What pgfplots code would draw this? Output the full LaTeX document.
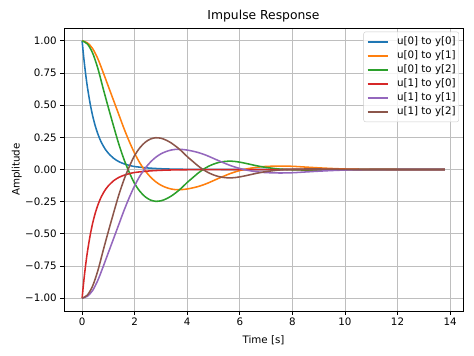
\documentclass[border=0pt]{standalone}
\usepackage{fontspec}
\setmainfont{DejaVu Sans}
\usepackage{pgfplots}
\usepackage{pgfplotstable}
\pgfplotsset{compat=1.18}
\definecolor{c0}{HTML}{1F77B4}
\definecolor{c1}{HTML}{FF7F0E}
\definecolor{c2}{HTML}{2CA02C}
\definecolor{c3}{HTML}{D62728}
\definecolor{c4}{HTML}{9467BD}
\definecolor{c5}{HTML}{8C564B}
\definecolor{gridc}{HTML}{BEBEBE}
\definecolor{legc}{HTML}{CCCCCC}

\pgfplotstableread{
t a d
0 1.000 -1.000
0.05 0.894 -0.894
0.1 0.800 -0.800
0.15 0.717 -0.717
0.2 0.642 -0.642
0.3 0.518 -0.518
0.4 0.418 -0.418
0.5 0.339 -0.339
0.6 0.276 -0.276
0.7 0.225 -0.225
0.8 0.185 -0.185
0.9 0.152 -0.152
1.0 0.126 -0.126
1.2 0.087 -0.087
1.4 0.061 -0.061
1.6 0.044 -0.044
1.8 0.032 -0.032
2.0 0.023 -0.023
2.5 0.012 -0.012
3.0 0.006 -0.006
3.5 0.003 -0.003
4.0 0.0016 -0.0016
5.0 0.0005 -0.0005
6.0 0.0001 -0.0001
8.0 0 0
10.0 0 0
13.8 0 0
}\tabA

\pgfplotstableread{
t b c e f
0 1.000 1.000 -1.000 -1.000
0.2 0.985 0.976 -0.985 -0.976
0.4 0.940 0.905 -0.940 -0.905
0.6 0.860 0.785 -0.860 -0.785
0.8 0.755 0.630 -0.755 -0.630
1.0 0.645 0.480 -0.645 -0.480
1.2 0.535 0.335 -0.535 -0.335
1.4 0.425 0.195 -0.425 -0.195
1.6 0.315 0.075 -0.315 -0.075
1.8 0.215 -0.025 -0.215 0.025
2.0 0.125 -0.110 -0.125 0.110
2.2 0.050 -0.170 -0.050 0.170
2.4 -0.010 -0.212 0.010 0.212
2.6 -0.058 -0.237 0.058 0.237
2.8 -0.095 -0.247 0.095 0.247
3.0 -0.122 -0.243 0.122 0.243
3.2 -0.140 -0.228 0.140 0.228
3.4 -0.152 -0.205 0.152 0.205
3.6 -0.157 -0.175 0.157 0.175
3.8 -0.156 -0.140 0.156 0.140
4.0 -0.151 -0.100 0.151 0.100
4.2 -0.143 -0.065 0.143 0.065
4.4 -0.133 -0.030 0.133 0.030
4.6 -0.120 0.000 0.120 0.000
4.8 -0.104 0.024 0.104 -0.024
5.0 -0.086 0.042 0.086 -0.042
5.2 -0.068 0.055 0.068 -0.055
5.4 -0.051 0.062 0.051 -0.062
5.6 -0.034 0.065 0.034 -0.065
5.8 -0.020 0.063 0.020 -0.063
6.0 -0.008 0.057 0.008 -0.057
6.2 0.002 0.049 -0.002 -0.049
6.4 0.010 0.040 -0.010 -0.040
6.6 0.016 0.031 -0.016 -0.031
6.8 0.021 0.023 -0.021 -0.023
7.0 0.024 0.016 -0.024 -0.016
7.5 0.027 0.004 -0.027 -0.004
8.0 0.025 -0.002 -0.025 0.002
8.5 0.019 -0.004 -0.019 0.004
9.0 0.013 -0.004 -0.013 0.004
9.5 0.008 -0.003 -0.008 0.003
10.0 0.004 -0.001 -0.004 0.001
10.5 0.002 0.000 -0.002 0.000
11.0 0.001 0.000 -0.001 0.000
12.0 0.000 0.000 0.000 0.000
13.8 0.000 0.000 0.000 0.000
}\tabB

\begin{document}
\begin{tikzpicture}
\useasboundingbox (-62.2pt,-43.2pt) rectangle (398.6pt,302.4pt);
\begin{axis}[
  at={(0pt,0pt)}, anchor=south west,
  scale only axis, width=387.9pt, height=275.2pt,
  xmin=-0.69, xmax=14.49, ymin=-1.1, ymax=1.1,
  xtick={0,2,4,6,8,10,12,14},
  ytick={-1,-0.75,-0.5,-0.25,0,0.25,0.5,0.75,1},
  yticklabels={−1.00,−0.75,−0.50,−0.25,0.00,0.25,0.50,0.75,1.00},
  /pgf/number format/assume math mode=true,
  tick label style={font=\fontsize{10}{12}\selectfont},
  xtick pos=bottom, ytick pos=left,
  tick align=outside,
  major tick length=3.5pt,
  major tick style={line width=0.8pt, black},
  axis line style={line width=0.8pt, black},
  grid=major,
  grid style={gridc, line width=0.7pt},
  every axis title shift=0pt,
  title={Impulse Response},
  title style={font=\fontsize{12}{14}\selectfont, at={(axis description cs:0.5,1.0283)}, anchor=base},
  xlabel={Time [s]},
  xlabel style={font=\fontsize{10}{12}\selectfont, at={(axis description cs:0.5,-0.113)}, anchor=base},
  ylabel={Amplitude},
  ylabel style={font=\fontsize{10}{12}\selectfont, at={(axis description cs:-0.1109,0.5)}, anchor=base},
  legend cell align=left,
  legend image code/.code={\draw[#1] (0pt,0pt) -- (20pt,0pt);},
  legend style={at={(axis description cs:1,1)}, anchor=north east, xshift=-3.9pt, yshift=-3.6pt,
    draw=legc, rounded corners=2pt, fill=white, fill opacity=0.8, text opacity=1,
    font=\fontsize{10}{12}\selectfont, inner xsep=3pt, inner ysep=4.7pt,
    row sep=3.61pt, column sep=8pt,
    nodes={inner xsep=0pt, inner ysep=0pt, text height=7.5pt, text depth=2.5pt}},
  every axis plot/.append style={line width=1.5pt, line join=round, smooth, no markers},
]
\addplot[c0] table[x=t,y=a]{\tabA};
\addlegendentry{u[0] to y[0]}
\addplot[c1] table[x=t,y=b]{\tabB};
\addlegendentry{u[0] to y[1]}
\addplot[c2] table[x=t,y=c]{\tabB};
\addlegendentry{u[0] to y[2]}
\addplot[c3] table[x=t,y=d]{\tabA};
\addlegendentry{u[1] to y[0]}
\addplot[c4] table[x=t,y=e]{\tabB};
\addlegendentry{u[1] to y[1]}
\addplot[c5] table[x=t,y=f]{\tabB};
\addlegendentry{u[1] to y[2]}
\end{axis}
\end{tikzpicture}
\end{document}
